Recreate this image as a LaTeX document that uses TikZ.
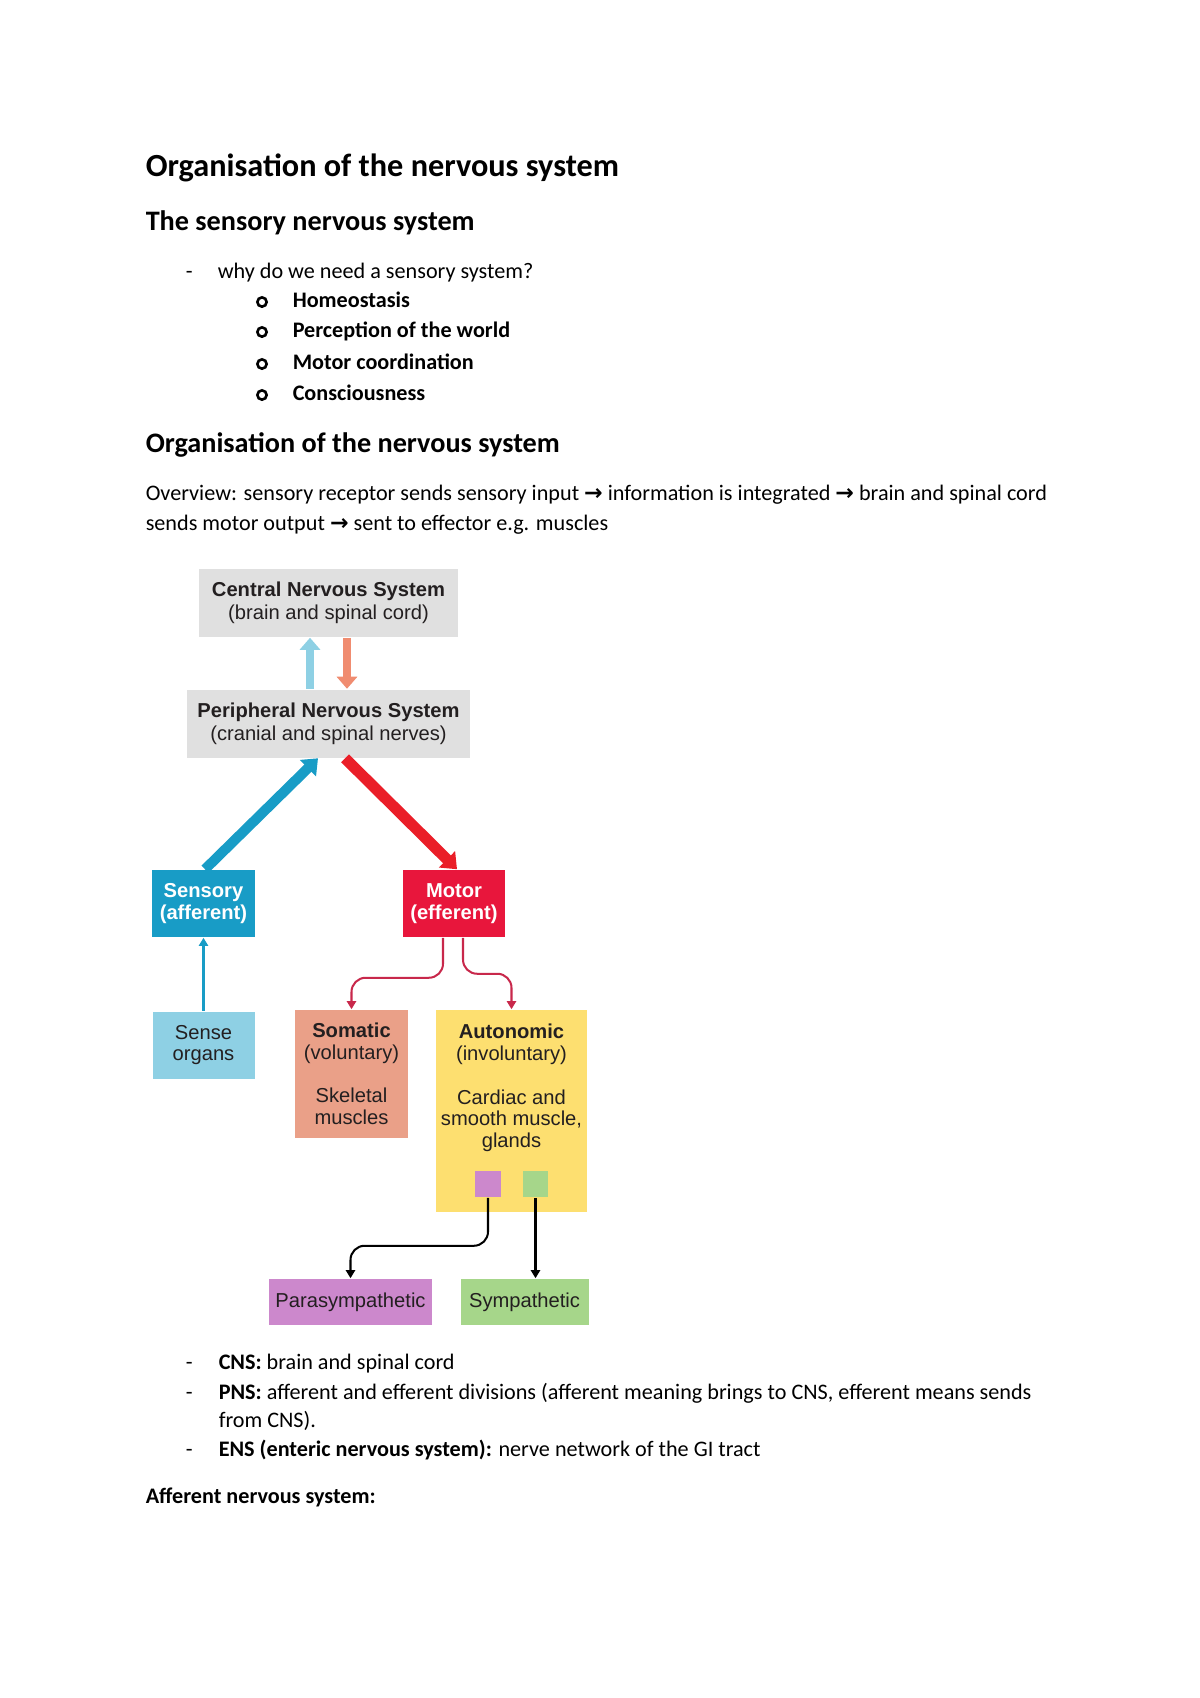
\documentclass[tikz,border=0pt]{standalone}
\usepackage{fontspec}
\setmainfont{Carlito}
\newfontfamily\figfont{Liberation Sans}
\newfontfamily\arrowfont{DejaVu Sans}
\usetikzlibrary{positioning, arrows.meta, calc}
\tikzset{every picture/.style={line width=0.75pt}}

\definecolor{boxgray}{RGB}{224,224,224}
\definecolor{sensblue}{RGB}{24,156,198}
\definecolor{paleblue}{RGB}{142,208,228}
\definecolor{salmon}{RGB}{240,140,112}
\definecolor{motorred}{RGB}{232,22,60}
\definecolor{arrowred}{RGB}{234,30,40}
\definecolor{branchred}{RGB}{200,40,75}
\definecolor{somaticfill}{RGB}{234,160,136}
\definecolor{autofill}{RGB}{253,223,112}
\definecolor{parafill}{RGB}{204,136,204}
\definecolor{symfill}{RGB}{166,214,138}
\definecolor{figtext}{RGB}{35,31,32}

\newcommand{\arr}{{\arrowfont\bfseries\fontsize{11}{12}\selectfont →}}

\begin{document}
\begin{tikzpicture}[x=0.49606pt, y=-0.49606pt,
    txt/.style={anchor=base west, inner sep=0pt, font=\fontsize{11}{13}\selectfont},
    bold/.style={txt, font=\bfseries\fontsize{11}{13}\selectfont},
    heading/.style={anchor=base west, inner sep=0pt, font=\bfseries\fontsize{#1}{#1}\selectfont},
    bul/.style={circle, draw, line width=1.3pt, inner sep=0pt, minimum size=4.6pt},
    size/.style 2 args={minimum width=#1*0.49606pt, minimum height=#2*0.49606pt},
    box/.style={inner sep=0pt, align=center, text=figtext, font=\figfont\fontsize{10}{10.8}\selectfont},
    bigbox/.style={box, fill=boxgray, font=\figfont\fontsize{10}{11.4}\selectfont},
    fat/.style={line width=#1, -{Triangle[length=7pt, width=11pt]}},
    short/.style={line width=4pt, -{Triangle[length=6pt, width=10pt]}},
    link/.style={line width=1pt, -{Triangle[length=4pt, width=4.5pt]}}]
    \useasboundingbox (0,0) rectangle (1200,1698);

    % page text above the figure
    \node[heading=16] (title) at (145,176) {Organisation of the nervous system};
    \node[heading=14] (senshead) at (145,230) {The sensory nervous system};
    \node[txt] (dash0) at (185,278) {-};
    \node[txt] (why) at (217,278) {why do we need a sensory system?};
    \foreach \y/\t in {307/Homeostasis, 337/Perception of the world, 369/Motor coordination, 400/Consciousness}
    {
        \node[bul] (bul\y) at (262,\y-5) {};
        \node[bold] (item\y) at (292,\y) {\t};
    }
    \node[heading=14] (orghead) at (145,452) {Organisation of the nervous system};
    \node[txt] (over1) at (145,500) {Overview: sensory receptor sends sensory input \arr{} information is integrated \arr{} brain and spinal cord};
    \node[txt] (over2) at (145,530) {sends motor output \arr{} sent to effector e.g. muscles};

    % figure
    \node[bigbox, size={259}{68}] (cns) at (328.5,603) {\textbf{Central Nervous System}\\(brain and spinal cord)};
    \node[bigbox, size={283}{68}, below=25.3pt of cns] (pns) {\textbf{Peripheral Nervous System}\\(cranial and spinal nerves)};
    \node[box, fill=sensblue, text=white, size={103}{67}] (sensory) at (203.5,903.5) {\textbf{Sensory}\\\textbf{(afferent)}};
    \node[box, fill=motorred, text=white, size={102}{67}] (motor) at (454,903.5) {\textbf{Motor}\\\textbf{(efferent)}};
    \node[box, fill=paleblue, size={102}{67}, below=36.2pt of sensory] (sense) {Sense\\organs};
    \node[box, fill=somaticfill, size={113}{128}] (somatic) at (351.5,1074) {\textbf{Somatic}\\(voluntary)\\[10.8pt]Skeletal\\muscles};
    \node[box, fill=autofill, size={151}{202}] (auto) at (511.5,1111) {};
    \node[box, anchor=north, below=7pt of auto.north] (autotext) {\textbf{Autonomic}\\(involuntary)\\[10.8pt]Cardiac and\\smooth muscle,\\glands};
    \node[fill=parafill, size={26}{26}, inner sep=0pt] (parasq) at (488,1184) {};
    \node[fill=symfill, size={25}{26}, inner sep=0pt] (symsq) at (535.5,1184) {};
    \node[box, fill=parafill, size={163}{46}] (para) at (350.5,1302) {Parasympathetic};
    \node[box, fill=symfill, size={128}{46}, right=13.4pt of para] (sym) {Sympathetic};

    \draw[short, paleblue] ($(pns.north)+(-18.5,0)$) -- ($(cns.south)+(-18.5,0)$);
    \draw[short, salmon] ($(cns.south)+(18.5,0)$) -- ($(pns.north)+(18.5,0)$);
    \draw[fat=5pt, sensblue] ($(sensory.north)+(1.5,0)$) -- ($(pns.south)+(-10.5,0)$);
    \draw[fat=5.5pt, arrowred] ($(pns.south)+(16.5,0)$) -- ($(motor.north)+(3,0)$);
    \draw
        (sense) edge[link, sensblue] (sensory)
        (symsq) edge[link] (symsq |- sym.north)
        ;
    \draw[link, branchred, rounded corners=7pt] ($(motor.south)+(-11,0)$) -- ++(0,40) -| (somatic.north);
    \draw[link, branchred, rounded corners=7pt] ($(motor.south)+(9,0)$) -- ++(0,36) -| (auto.north);
    \draw[link, rounded corners=7pt] (parasq.south) -- ++(0,48) -| (para.north);

    % page text below the figure
    \node[txt] (dash1) at (185,1369) {-};
    \node[txt] (cnsline) at (218,1369) {\textbf{CNS:} brain and spinal cord};
    \node[txt] (dash2) at (185,1399) {-};
    \node[txt] (pnsline) at (218,1399) {\textbf{PNS:} afferent and efferent divisions (afferent meaning brings to CNS, efferent means sends};
    \node[txt] (pnsline2) at (218,1427) {from CNS).};
    \node[txt] (dash3) at (185,1456) {-};
    \node[txt] (ensline) at (218,1456) {\textbf{ENS (enteric nervous system):} nerve network of the GI tract};
    \node[heading=11] (affhead) at (145,1503) {Afferent nervous system:};
\end{tikzpicture}
\end{document}
